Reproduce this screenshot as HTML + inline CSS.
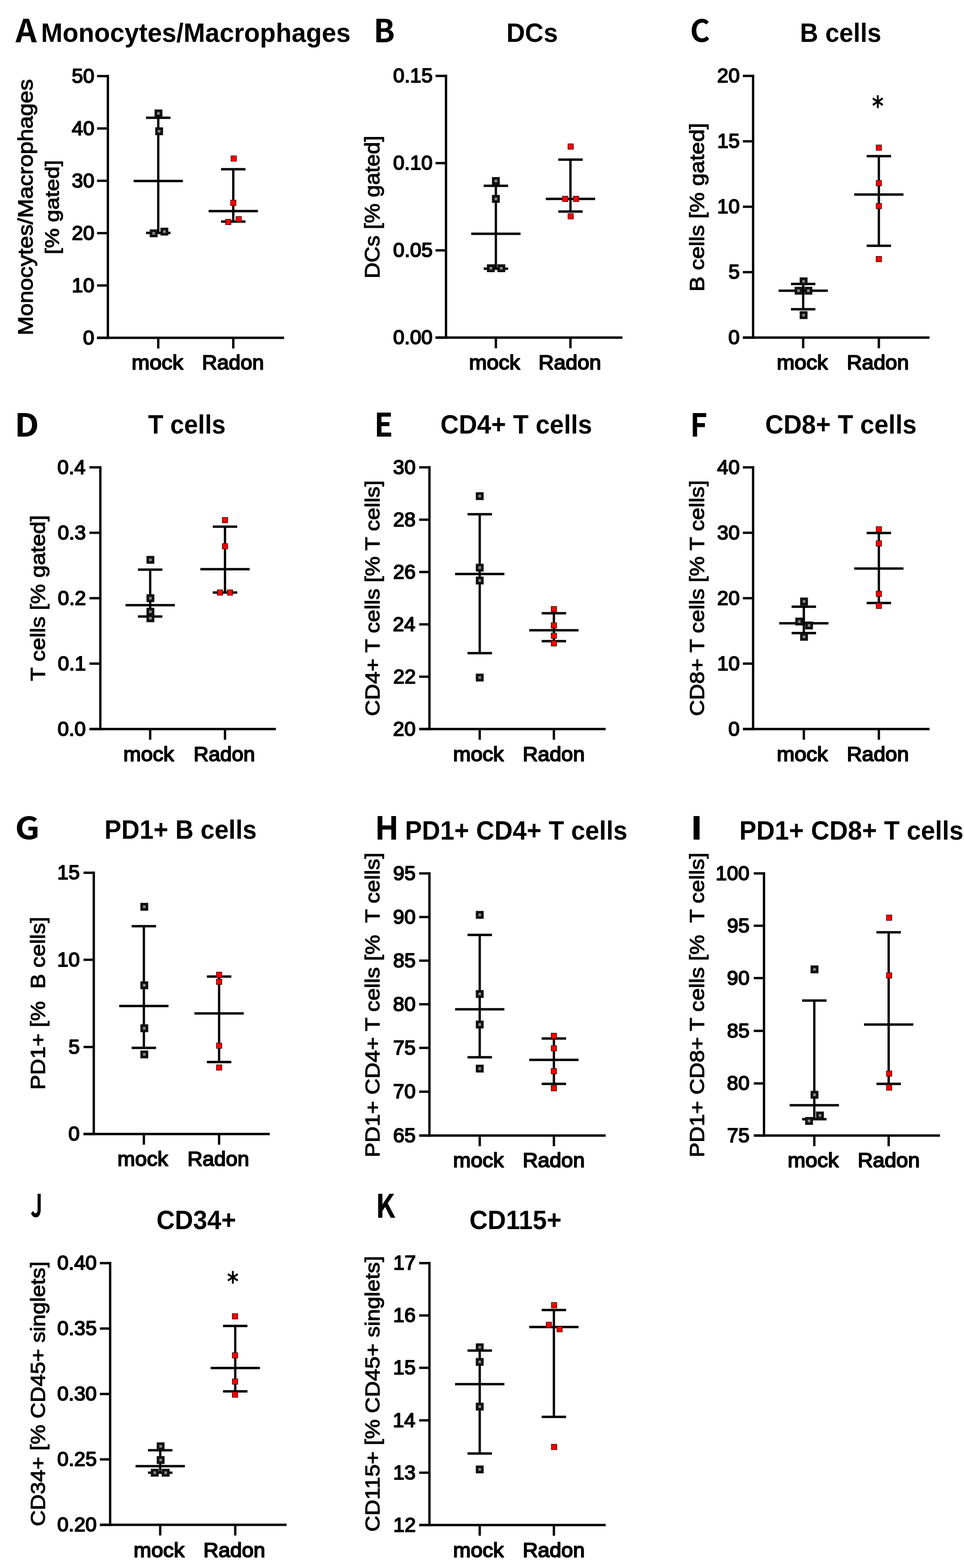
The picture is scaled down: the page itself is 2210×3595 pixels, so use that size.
<!DOCTYPE html>
<html><head><meta charset="utf-8"><title>Figure</title>
<style>html,body{margin:0;padding:0;background:#fff;}body{width:2210px;height:3595px;overflow:hidden;}svg{display:block;}</style>
</head><body>
<svg width="2210" height="3595" viewBox="0 0 2210 3595" font-family="'Liberation Sans', Arial, sans-serif" font-weight="bold" style="white-space:pre">
<g stroke="#000" stroke-linecap="butt">
<line x1="247.30" y1="171.80" x2="247.30" y2="777.20" stroke-width="5.4"/>
<line x1="222.50" y1="774.50" x2="651.30" y2="774.50" stroke-width="5.4"/>
<line x1="222.50" y1="174.50" x2="247.30" y2="174.50" stroke-width="5.4"/>
<line x1="222.50" y1="294.50" x2="247.30" y2="294.50" stroke-width="5.4"/>
<line x1="222.50" y1="414.50" x2="247.30" y2="414.50" stroke-width="5.4"/>
<line x1="222.50" y1="534.50" x2="247.30" y2="534.50" stroke-width="5.4"/>
<line x1="222.50" y1="654.50" x2="247.30" y2="654.50" stroke-width="5.4"/>
<line x1="222.50" y1="774.50" x2="247.30" y2="774.50" stroke-width="5.4"/>
<line x1="362.80" y1="774.50" x2="362.80" y2="799.00" stroke-width="5.4"/>
<line x1="534.80" y1="774.50" x2="534.80" y2="799.00" stroke-width="5.4"/>
<line x1="362.80" y1="270.00" x2="362.80" y2="534.00" stroke-width="5.3"/>
<line x1="334.80" y1="270.00" x2="390.80" y2="270.00" stroke-width="5.3"/>
<line x1="334.80" y1="534.00" x2="390.80" y2="534.00" stroke-width="5.3"/>
<line x1="306.30" y1="415.00" x2="419.30" y2="415.00" stroke-width="5.3"/>
<line x1="534.80" y1="388.00" x2="534.80" y2="508.00" stroke-width="5.3"/>
<line x1="506.80" y1="388.00" x2="562.80" y2="388.00" stroke-width="5.3"/>
<line x1="506.80" y1="508.00" x2="562.80" y2="508.00" stroke-width="5.3"/>
<line x1="478.30" y1="484.00" x2="591.30" y2="484.00" stroke-width="5.3"/>
</g>
<rect x="354.30" y="251.00" width="18" height="18" fill="#111"/><rect x="360.30" y="257.00" width="6" height="6" fill="#8c8c8c"/>
<rect x="355.80" y="292.00" width="18" height="18" fill="#111"/><rect x="361.80" y="298.00" width="6" height="6" fill="#8c8c8c"/>
<rect x="343.30" y="526.00" width="18" height="18" fill="#111"/><rect x="349.30" y="532.00" width="6" height="6" fill="#8c8c8c"/>
<rect x="367.80" y="522.00" width="18" height="18" fill="#111"/><rect x="373.80" y="528.00" width="6" height="6" fill="#8c8c8c"/>
<rect x="529.60" y="357.30" width="12.4" height="12.4" fill="#f00" stroke="#300" stroke-width="1.3"/>
<rect x="528.60" y="458.80" width="12.4" height="12.4" fill="#f00" stroke="#300" stroke-width="1.3"/>
<rect x="517.10" y="502.80" width="12.4" height="12.4" fill="#f00" stroke="#300" stroke-width="1.3"/>
<rect x="541.10" y="496.30" width="12.4" height="12.4" fill="#f00" stroke="#300" stroke-width="1.3"/>
<text x="164.53" y="189.50" font-size="46.50" font-weight="normal" stroke="#000" stroke-width="2.2" stroke-linejoin="round">50</text>
<text x="164.53" y="309.50" font-size="46.50" font-weight="normal" stroke="#000" stroke-width="2.2" stroke-linejoin="round">40</text>
<text x="164.53" y="429.50" font-size="46.50" font-weight="normal" stroke="#000" stroke-width="2.2" stroke-linejoin="round">30</text>
<text x="164.53" y="549.50" font-size="46.50" font-weight="normal" stroke="#000" stroke-width="2.2" stroke-linejoin="round">20</text>
<text x="164.53" y="669.50" font-size="46.50" font-weight="normal" stroke="#000" stroke-width="2.2" stroke-linejoin="round">10</text>
<text x="190.34" y="789.50" font-size="46.50" font-weight="normal" stroke="#000" stroke-width="2.2" stroke-linejoin="round">0</text>
<text x="301.71" y="847.20" font-size="47.00" font-weight="normal" stroke="#000" stroke-width="2.3" stroke-linejoin="round" textLength="118.20" lengthAdjust="spacingAndGlyphs">mock</text>
<text x="462.97" y="847.20" font-size="47.00" font-weight="normal" stroke="#000" stroke-width="2.3" stroke-linejoin="round" textLength="142.10" lengthAdjust="spacingAndGlyphs">Radon</text>
<text x="35.79" y="97.00" font-size="73.38" font-family="'Noto Sans CJK JP', 'Liberation Sans', sans-serif" textLength="48.41" lengthAdjust="spacingAndGlyphs">A</text>
<text x="93.99" y="96.10" font-size="61.50" textLength="709.89" lengthAdjust="spacingAndGlyphs">Monocytes/Macrophages</text>
<text x="0.00" y="0.00" font-size="48.85" font-weight="normal" stroke="#000" stroke-width="1.4" stroke-linejoin="round" textLength="587.28" lengthAdjust="spacingAndGlyphs" transform="translate(74.86,768.64) rotate(-90)">Monocytes/Macrophages</text>
<text x="0.00" y="0.00" font-size="44.08" font-weight="normal" stroke="#000" stroke-width="1.4" stroke-linejoin="round" textLength="215.90" lengthAdjust="spacingAndGlyphs" transform="translate(135.15,583.00) rotate(-90)">[% gated]</text>
<g stroke="#000" stroke-linecap="butt">
<line x1="1022.50" y1="171.30" x2="1022.50" y2="776.70" stroke-width="5.4"/>
<line x1="998.50" y1="774.00" x2="1427.00" y2="774.00" stroke-width="5.4"/>
<line x1="998.50" y1="174.00" x2="1022.50" y2="174.00" stroke-width="5.4"/>
<line x1="998.50" y1="374.00" x2="1022.50" y2="374.00" stroke-width="5.4"/>
<line x1="998.50" y1="574.00" x2="1022.50" y2="574.00" stroke-width="5.4"/>
<line x1="998.50" y1="774.00" x2="1022.50" y2="774.00" stroke-width="5.4"/>
<line x1="1136.80" y1="774.00" x2="1136.80" y2="798.50" stroke-width="5.4"/>
<line x1="1307.80" y1="774.00" x2="1307.80" y2="798.50" stroke-width="5.4"/>
<line x1="1136.80" y1="426.00" x2="1136.80" y2="616.00" stroke-width="5.3"/>
<line x1="1108.80" y1="426.00" x2="1164.80" y2="426.00" stroke-width="5.3"/>
<line x1="1108.80" y1="616.00" x2="1164.80" y2="616.00" stroke-width="5.3"/>
<line x1="1080.30" y1="536.00" x2="1193.30" y2="536.00" stroke-width="5.3"/>
<line x1="1307.80" y1="366.00" x2="1307.80" y2="485.00" stroke-width="5.3"/>
<line x1="1279.80" y1="366.00" x2="1335.80" y2="366.00" stroke-width="5.3"/>
<line x1="1279.80" y1="485.00" x2="1335.80" y2="485.00" stroke-width="5.3"/>
<line x1="1251.30" y1="456.00" x2="1364.30" y2="456.00" stroke-width="5.3"/>
</g>
<rect x="1127.80" y="406.00" width="18" height="18" fill="#111"/><rect x="1133.80" y="412.00" width="6" height="6" fill="#8c8c8c"/>
<rect x="1127.80" y="447.00" width="18" height="18" fill="#111"/><rect x="1133.80" y="453.00" width="6" height="6" fill="#8c8c8c"/>
<rect x="1116.30" y="606.00" width="18" height="18" fill="#111"/><rect x="1122.30" y="612.00" width="6" height="6" fill="#8c8c8c"/>
<rect x="1140.30" y="606.00" width="18" height="18" fill="#111"/><rect x="1146.30" y="612.00" width="6" height="6" fill="#8c8c8c"/>
<rect x="1302.10" y="329.80" width="12.4" height="12.4" fill="#f00" stroke="#300" stroke-width="1.3"/>
<rect x="1289.60" y="449.80" width="12.4" height="12.4" fill="#f00" stroke="#300" stroke-width="1.3"/>
<rect x="1314.60" y="449.80" width="12.4" height="12.4" fill="#f00" stroke="#300" stroke-width="1.3"/>
<rect x="1302.10" y="489.80" width="12.4" height="12.4" fill="#f00" stroke="#300" stroke-width="1.3"/>
<text x="901.32" y="189.00" font-size="46.50" font-weight="normal" stroke="#000" stroke-width="2.2" stroke-linejoin="round">0.15</text>
<text x="901.20" y="389.00" font-size="46.50" font-weight="normal" stroke="#000" stroke-width="2.2" stroke-linejoin="round">0.10</text>
<text x="901.32" y="589.00" font-size="46.50" font-weight="normal" stroke="#000" stroke-width="2.2" stroke-linejoin="round">0.05</text>
<text x="901.20" y="789.00" font-size="46.50" font-weight="normal" stroke="#000" stroke-width="2.2" stroke-linejoin="round">0.00</text>
<text x="1075.35" y="847.20" font-size="47.00" font-weight="normal" stroke="#000" stroke-width="2.3" stroke-linejoin="round" textLength="116.96" lengthAdjust="spacingAndGlyphs">mock</text>
<text x="1234.63" y="847.20" font-size="47.00" font-weight="normal" stroke="#000" stroke-width="2.3" stroke-linejoin="round" textLength="143.47" lengthAdjust="spacingAndGlyphs">Radon</text>
<text x="856.32" y="96.90" font-size="73.11" font-family="'Noto Sans CJK JP', 'Liberation Sans', sans-serif" textLength="49.03" lengthAdjust="spacingAndGlyphs">B</text>
<text x="1160.92" y="96.00" font-size="61.50" textLength="118.08" lengthAdjust="spacingAndGlyphs">DCs</text>
<text x="0.00" y="0.00" font-size="47.94" font-weight="normal" stroke="#000" stroke-width="1.4" stroke-linejoin="round" textLength="327.44" lengthAdjust="spacingAndGlyphs" transform="translate(870.05,638.49) rotate(-90)">DCs [% gated]</text>
<g stroke="#000" stroke-linecap="butt">
<line x1="1726.50" y1="171.30" x2="1726.50" y2="776.70" stroke-width="5.4"/>
<line x1="1703.00" y1="774.00" x2="2131.00" y2="774.00" stroke-width="5.4"/>
<line x1="1703.00" y1="174.00" x2="1726.50" y2="174.00" stroke-width="5.4"/>
<line x1="1703.00" y1="324.00" x2="1726.50" y2="324.00" stroke-width="5.4"/>
<line x1="1703.00" y1="474.00" x2="1726.50" y2="474.00" stroke-width="5.4"/>
<line x1="1703.00" y1="624.00" x2="1726.50" y2="624.00" stroke-width="5.4"/>
<line x1="1703.00" y1="774.00" x2="1726.50" y2="774.00" stroke-width="5.4"/>
<line x1="1841.30" y1="774.00" x2="1841.30" y2="798.50" stroke-width="5.4"/>
<line x1="2014.80" y1="774.00" x2="2014.80" y2="798.50" stroke-width="5.4"/>
<line x1="1841.30" y1="651.00" x2="1841.30" y2="709.00" stroke-width="5.3"/>
<line x1="1813.30" y1="651.00" x2="1869.30" y2="651.00" stroke-width="5.3"/>
<line x1="1813.30" y1="709.00" x2="1869.30" y2="709.00" stroke-width="5.3"/>
<line x1="1784.80" y1="666.50" x2="1897.80" y2="666.50" stroke-width="5.3"/>
<line x1="2014.80" y1="358.00" x2="2014.80" y2="563.50" stroke-width="5.3"/>
<line x1="1986.80" y1="358.00" x2="2042.80" y2="358.00" stroke-width="5.3"/>
<line x1="1986.80" y1="563.50" x2="2042.80" y2="563.50" stroke-width="5.3"/>
<line x1="1958.30" y1="446.00" x2="2071.30" y2="446.00" stroke-width="5.3"/>
</g>
<rect x="1833.30" y="636.00" width="18" height="18" fill="#111"/><rect x="1839.30" y="642.00" width="6" height="6" fill="#8c8c8c"/>
<rect x="1821.80" y="657.50" width="18" height="18" fill="#111"/><rect x="1827.80" y="663.50" width="6" height="6" fill="#8c8c8c"/>
<rect x="1844.30" y="657.50" width="18" height="18" fill="#111"/><rect x="1850.30" y="663.50" width="6" height="6" fill="#8c8c8c"/>
<rect x="1833.30" y="713.50" width="18" height="18" fill="#111"/><rect x="1839.30" y="719.50" width="6" height="6" fill="#8c8c8c"/>
<rect x="2008.60" y="332.30" width="12.4" height="12.4" fill="#f00" stroke="#300" stroke-width="1.3"/>
<rect x="2008.60" y="413.80" width="12.4" height="12.4" fill="#f00" stroke="#300" stroke-width="1.3"/>
<rect x="2008.60" y="466.30" width="12.4" height="12.4" fill="#f00" stroke="#300" stroke-width="1.3"/>
<rect x="2008.60" y="587.80" width="12.4" height="12.4" fill="#f00" stroke="#300" stroke-width="1.3"/>
<text x="1644.03" y="189.00" font-size="46.50" font-weight="normal" stroke="#000" stroke-width="2.2" stroke-linejoin="round">20</text>
<text x="1644.14" y="339.00" font-size="46.50" font-weight="normal" stroke="#000" stroke-width="2.2" stroke-linejoin="round">15</text>
<text x="1644.03" y="489.00" font-size="46.50" font-weight="normal" stroke="#000" stroke-width="2.2" stroke-linejoin="round">10</text>
<text x="1669.95" y="639.00" font-size="46.50" font-weight="normal" stroke="#000" stroke-width="2.2" stroke-linejoin="round">5</text>
<text x="1669.84" y="789.00" font-size="46.50" font-weight="normal" stroke="#000" stroke-width="2.2" stroke-linejoin="round">0</text>
<text x="1780.85" y="847.20" font-size="47.00" font-weight="normal" stroke="#000" stroke-width="2.3" stroke-linejoin="round" textLength="116.96" lengthAdjust="spacingAndGlyphs">mock</text>
<text x="1941.16" y="847.20" font-size="47.00" font-weight="normal" stroke="#000" stroke-width="2.3" stroke-linejoin="round" textLength="142.42" lengthAdjust="spacingAndGlyphs">Radon</text>
<text x="1582.07" y="96.04" font-size="70.78" font-family="'Noto Sans CJK JP', 'Liberation Sans', sans-serif" textLength="45.72" lengthAdjust="spacingAndGlyphs">C</text>
<text x="1834.10" y="96.00" font-size="61.50" textLength="186.31" lengthAdjust="spacingAndGlyphs">B cells</text>
<text x="0.00" y="0.00" font-size="46.76" font-weight="normal" stroke="#000" stroke-width="1.4" stroke-linejoin="round" textLength="386.57" lengthAdjust="spacingAndGlyphs" transform="translate(1613.60,668.58) rotate(-90)">B cells [% gated]</text>
<text x="1999.08" y="265.88" font-size="64.09" font-family="'DejaVu Sans', 'Liberation Sans', sans-serif" textLength="26.66" lengthAdjust="spacingAndGlyphs">*</text>
<g stroke="#000" stroke-linecap="butt">
<line x1="230.00" y1="1068.80" x2="230.00" y2="1674.20" stroke-width="5.4"/>
<line x1="205.00" y1="1671.50" x2="632.50" y2="1671.50" stroke-width="5.4"/>
<line x1="205.00" y1="1071.50" x2="230.00" y2="1071.50" stroke-width="5.4"/>
<line x1="205.00" y1="1221.50" x2="230.00" y2="1221.50" stroke-width="5.4"/>
<line x1="205.00" y1="1371.50" x2="230.00" y2="1371.50" stroke-width="5.4"/>
<line x1="205.00" y1="1521.50" x2="230.00" y2="1521.50" stroke-width="5.4"/>
<line x1="205.00" y1="1671.50" x2="230.00" y2="1671.50" stroke-width="5.4"/>
<line x1="344.30" y1="1671.50" x2="344.30" y2="1696.00" stroke-width="5.4"/>
<line x1="515.80" y1="1671.50" x2="515.80" y2="1696.00" stroke-width="5.4"/>
<line x1="344.30" y1="1306.00" x2="344.30" y2="1413.50" stroke-width="5.3"/>
<line x1="316.30" y1="1306.00" x2="372.30" y2="1306.00" stroke-width="5.3"/>
<line x1="316.30" y1="1413.50" x2="372.30" y2="1413.50" stroke-width="5.3"/>
<line x1="287.80" y1="1387.50" x2="400.80" y2="1387.50" stroke-width="5.3"/>
<line x1="515.80" y1="1207.50" x2="515.80" y2="1358.50" stroke-width="5.3"/>
<line x1="487.80" y1="1207.50" x2="543.80" y2="1207.50" stroke-width="5.3"/>
<line x1="487.80" y1="1358.50" x2="543.80" y2="1358.50" stroke-width="5.3"/>
<line x1="459.30" y1="1305.00" x2="572.30" y2="1305.00" stroke-width="5.3"/>
</g>
<rect x="335.80" y="1274.50" width="18" height="18" fill="#111"/><rect x="341.80" y="1280.50" width="6" height="6" fill="#8c8c8c"/>
<rect x="335.80" y="1362.50" width="18" height="18" fill="#111"/><rect x="341.80" y="1368.50" width="6" height="6" fill="#8c8c8c"/>
<rect x="335.80" y="1393.50" width="18" height="18" fill="#111"/><rect x="341.80" y="1399.50" width="6" height="6" fill="#8c8c8c"/>
<rect x="335.80" y="1408.50" width="18" height="18" fill="#111"/><rect x="341.80" y="1414.50" width="6" height="6" fill="#8c8c8c"/>
<rect x="509.60" y="1186.30" width="12.4" height="12.4" fill="#f00" stroke="#300" stroke-width="1.3"/>
<rect x="509.60" y="1246.30" width="12.4" height="12.4" fill="#f00" stroke="#300" stroke-width="1.3"/>
<rect x="498.10" y="1352.30" width="12.4" height="12.4" fill="#f00" stroke="#300" stroke-width="1.3"/>
<rect x="521.10" y="1352.30" width="12.4" height="12.4" fill="#f00" stroke="#300" stroke-width="1.3"/>
<text x="131.54" y="1086.50" font-size="46.50" font-weight="normal" stroke="#000" stroke-width="2.2" stroke-linejoin="round">0.4</text>
<text x="132.24" y="1236.50" font-size="46.50" font-weight="normal" stroke="#000" stroke-width="2.2" stroke-linejoin="round">0.3</text>
<text x="132.59" y="1386.50" font-size="46.50" font-weight="normal" stroke="#000" stroke-width="2.2" stroke-linejoin="round">0.2</text>
<text x="132.47" y="1536.50" font-size="46.50" font-weight="normal" stroke="#000" stroke-width="2.2" stroke-linejoin="round">0.1</text>
<text x="132.01" y="1686.50" font-size="46.50" font-weight="normal" stroke="#000" stroke-width="2.2" stroke-linejoin="round">0.0</text>
<text x="282.87" y="1745.00" font-size="47.00" font-weight="normal" stroke="#000" stroke-width="2.3" stroke-linejoin="round" textLength="115.94" lengthAdjust="spacingAndGlyphs">mock</text>
<text x="443.71" y="1745.00" font-size="47.00" font-weight="normal" stroke="#000" stroke-width="2.3" stroke-linejoin="round" textLength="140.84" lengthAdjust="spacingAndGlyphs">Radon</text>
<text x="33.31" y="1000.50" font-size="73.24" font-family="'Noto Sans CJK JP', 'Liberation Sans', sans-serif" textLength="56.24" lengthAdjust="spacingAndGlyphs">D</text>
<text x="339.43" y="994.00" font-size="61.50" textLength="177.88" lengthAdjust="spacingAndGlyphs">T cells</text>
<text x="0.00" y="0.00" font-size="46.76" font-weight="normal" stroke="#000" stroke-width="1.4" stroke-linejoin="round" textLength="380.34" lengthAdjust="spacingAndGlyphs" transform="translate(103.10,1561.46) rotate(-90)">T cells [% gated]</text>
<g stroke="#000" stroke-linecap="butt">
<line x1="984.50" y1="1068.80" x2="984.50" y2="1674.20" stroke-width="5.4"/>
<line x1="961.00" y1="1671.50" x2="1388.50" y2="1671.50" stroke-width="5.4"/>
<line x1="961.00" y1="1071.50" x2="984.50" y2="1071.50" stroke-width="5.4"/>
<line x1="961.00" y1="1191.50" x2="984.50" y2="1191.50" stroke-width="5.4"/>
<line x1="961.00" y1="1311.50" x2="984.50" y2="1311.50" stroke-width="5.4"/>
<line x1="961.00" y1="1431.50" x2="984.50" y2="1431.50" stroke-width="5.4"/>
<line x1="961.00" y1="1551.50" x2="984.50" y2="1551.50" stroke-width="5.4"/>
<line x1="961.00" y1="1671.50" x2="984.50" y2="1671.50" stroke-width="5.4"/>
<line x1="1099.80" y1="1671.50" x2="1099.80" y2="1696.00" stroke-width="5.4"/>
<line x1="1269.80" y1="1671.50" x2="1269.80" y2="1696.00" stroke-width="5.4"/>
<line x1="1099.80" y1="1179.00" x2="1099.80" y2="1497.50" stroke-width="5.3"/>
<line x1="1071.80" y1="1179.00" x2="1127.80" y2="1179.00" stroke-width="5.3"/>
<line x1="1071.80" y1="1497.50" x2="1127.80" y2="1497.50" stroke-width="5.3"/>
<line x1="1043.30" y1="1316.00" x2="1156.30" y2="1316.00" stroke-width="5.3"/>
<line x1="1269.80" y1="1406.00" x2="1269.80" y2="1470.00" stroke-width="5.3"/>
<line x1="1241.80" y1="1406.00" x2="1297.80" y2="1406.00" stroke-width="5.3"/>
<line x1="1241.80" y1="1470.00" x2="1297.80" y2="1470.00" stroke-width="5.3"/>
<line x1="1213.30" y1="1445.00" x2="1326.30" y2="1445.00" stroke-width="5.3"/>
</g>
<rect x="1090.80" y="1128.50" width="18" height="18" fill="#111"/><rect x="1096.80" y="1134.50" width="6" height="6" fill="#8c8c8c"/>
<rect x="1090.80" y="1292.50" width="18" height="18" fill="#111"/><rect x="1096.80" y="1298.50" width="6" height="6" fill="#8c8c8c"/>
<rect x="1090.80" y="1322.00" width="18" height="18" fill="#111"/><rect x="1096.80" y="1328.00" width="6" height="6" fill="#8c8c8c"/>
<rect x="1090.80" y="1544.50" width="18" height="18" fill="#111"/><rect x="1096.80" y="1550.50" width="6" height="6" fill="#8c8c8c"/>
<rect x="1263.60" y="1390.30" width="12.4" height="12.4" fill="#f00" stroke="#300" stroke-width="1.3"/>
<rect x="1263.60" y="1427.80" width="12.4" height="12.4" fill="#f00" stroke="#300" stroke-width="1.3"/>
<rect x="1263.60" y="1451.30" width="12.4" height="12.4" fill="#f00" stroke="#300" stroke-width="1.3"/>
<rect x="1263.60" y="1468.80" width="12.4" height="12.4" fill="#f00" stroke="#300" stroke-width="1.3"/>
<text x="901.03" y="1086.50" font-size="46.50" font-weight="normal" stroke="#000" stroke-width="2.2" stroke-linejoin="round">30</text>
<text x="901.26" y="1206.50" font-size="46.50" font-weight="normal" stroke="#000" stroke-width="2.2" stroke-linejoin="round">28</text>
<text x="901.26" y="1326.50" font-size="46.50" font-weight="normal" stroke="#000" stroke-width="2.2" stroke-linejoin="round">26</text>
<text x="900.56" y="1446.50" font-size="46.50" font-weight="normal" stroke="#000" stroke-width="2.2" stroke-linejoin="round">24</text>
<text x="901.61" y="1566.50" font-size="46.50" font-weight="normal" stroke="#000" stroke-width="2.2" stroke-linejoin="round">22</text>
<text x="901.03" y="1686.50" font-size="46.50" font-weight="normal" stroke="#000" stroke-width="2.2" stroke-linejoin="round">20</text>
<text x="1038.87" y="1745.00" font-size="47.00" font-weight="normal" stroke="#000" stroke-width="2.3" stroke-linejoin="round" textLength="115.94" lengthAdjust="spacingAndGlyphs">mock</text>
<text x="1198.16" y="1745.00" font-size="47.00" font-weight="normal" stroke="#000" stroke-width="2.3" stroke-linejoin="round" textLength="142.42" lengthAdjust="spacingAndGlyphs">Radon</text>
<text x="857.77" y="1000.70" font-size="73.78" font-family="'Noto Sans CJK JP', 'Liberation Sans', sans-serif" textLength="43.25" lengthAdjust="spacingAndGlyphs">E</text>
<text x="1009.67" y="994.00" font-size="61.50" textLength="347.67" lengthAdjust="spacingAndGlyphs">CD4+ T cells</text>
<text x="0.00" y="0.00" font-size="45.68" font-weight="normal" stroke="#000" stroke-width="1.4" stroke-linejoin="round" textLength="540.70" lengthAdjust="spacingAndGlyphs" transform="translate(869.82,1641.86) rotate(-90)">CD4+ T cells [% T cells]</text>
<g stroke="#000" stroke-linecap="butt">
<line x1="1726.50" y1="1068.80" x2="1726.50" y2="1674.20" stroke-width="5.4"/>
<line x1="1703.00" y1="1671.50" x2="2131.00" y2="1671.50" stroke-width="5.4"/>
<line x1="1703.00" y1="1071.50" x2="1726.50" y2="1071.50" stroke-width="5.4"/>
<line x1="1703.00" y1="1221.50" x2="1726.50" y2="1221.50" stroke-width="5.4"/>
<line x1="1703.00" y1="1371.50" x2="1726.50" y2="1371.50" stroke-width="5.4"/>
<line x1="1703.00" y1="1521.50" x2="1726.50" y2="1521.50" stroke-width="5.4"/>
<line x1="1703.00" y1="1671.50" x2="1726.50" y2="1671.50" stroke-width="5.4"/>
<line x1="1842.80" y1="1671.50" x2="1842.80" y2="1696.00" stroke-width="5.4"/>
<line x1="2014.80" y1="1671.50" x2="2014.80" y2="1696.00" stroke-width="5.4"/>
<line x1="1842.80" y1="1391.00" x2="1842.80" y2="1451.50" stroke-width="5.3"/>
<line x1="1814.80" y1="1391.00" x2="1870.80" y2="1391.00" stroke-width="5.3"/>
<line x1="1814.80" y1="1451.50" x2="1870.80" y2="1451.50" stroke-width="5.3"/>
<line x1="1786.30" y1="1429.00" x2="1899.30" y2="1429.00" stroke-width="5.3"/>
<line x1="2014.80" y1="1222.00" x2="2014.80" y2="1382.50" stroke-width="5.3"/>
<line x1="1986.80" y1="1222.00" x2="2042.80" y2="1222.00" stroke-width="5.3"/>
<line x1="1986.80" y1="1382.50" x2="2042.80" y2="1382.50" stroke-width="5.3"/>
<line x1="1958.30" y1="1303.50" x2="2071.30" y2="1303.50" stroke-width="5.3"/>
</g>
<rect x="1834.30" y="1370.00" width="18" height="18" fill="#111"/><rect x="1840.30" y="1376.00" width="6" height="6" fill="#8c8c8c"/>
<rect x="1823.30" y="1416.00" width="18" height="18" fill="#111"/><rect x="1829.30" y="1422.00" width="6" height="6" fill="#8c8c8c"/>
<rect x="1845.80" y="1425.00" width="18" height="18" fill="#111"/><rect x="1851.80" y="1431.00" width="6" height="6" fill="#8c8c8c"/>
<rect x="1834.30" y="1451.00" width="18" height="18" fill="#111"/><rect x="1840.30" y="1457.00" width="6" height="6" fill="#8c8c8c"/>
<rect x="2008.60" y="1207.30" width="12.4" height="12.4" fill="#f00" stroke="#300" stroke-width="1.3"/>
<rect x="2008.60" y="1239.80" width="12.4" height="12.4" fill="#f00" stroke="#300" stroke-width="1.3"/>
<rect x="2008.60" y="1355.30" width="12.4" height="12.4" fill="#f00" stroke="#300" stroke-width="1.3"/>
<rect x="2008.60" y="1382.80" width="12.4" height="12.4" fill="#f00" stroke="#300" stroke-width="1.3"/>
<text x="1644.03" y="1086.50" font-size="46.50" font-weight="normal" stroke="#000" stroke-width="2.2" stroke-linejoin="round">40</text>
<text x="1644.03" y="1236.50" font-size="46.50" font-weight="normal" stroke="#000" stroke-width="2.2" stroke-linejoin="round">30</text>
<text x="1644.03" y="1386.50" font-size="46.50" font-weight="normal" stroke="#000" stroke-width="2.2" stroke-linejoin="round">20</text>
<text x="1644.03" y="1536.50" font-size="46.50" font-weight="normal" stroke="#000" stroke-width="2.2" stroke-linejoin="round">10</text>
<text x="1669.84" y="1686.50" font-size="46.50" font-weight="normal" stroke="#000" stroke-width="2.2" stroke-linejoin="round">0</text>
<text x="1780.85" y="1745.00" font-size="47.00" font-weight="normal" stroke="#000" stroke-width="2.3" stroke-linejoin="round" textLength="116.96" lengthAdjust="spacingAndGlyphs">mock</text>
<text x="1941.16" y="1745.00" font-size="47.00" font-weight="normal" stroke="#000" stroke-width="2.3" stroke-linejoin="round" textLength="142.42" lengthAdjust="spacingAndGlyphs">Radon</text>
<text x="1581.90" y="1000.60" font-size="73.51" font-family="'Noto Sans CJK JP', 'Liberation Sans', sans-serif" textLength="39.64" lengthAdjust="spacingAndGlyphs">F</text>
<text x="1754.18" y="994.00" font-size="61.50" textLength="347.17" lengthAdjust="spacingAndGlyphs">CD8+ T cells</text>
<text x="0.00" y="0.00" font-size="46.76" font-weight="normal" stroke="#000" stroke-width="1.4" stroke-linejoin="round" textLength="540.70" lengthAdjust="spacingAndGlyphs" transform="translate(1613.60,1641.86) rotate(-90)">CD8+ T cells [% T cells]</text>
<g stroke="#000" stroke-linecap="butt">
<line x1="215.00" y1="1998.30" x2="215.00" y2="2602.70" stroke-width="5.4"/>
<line x1="191.50" y1="2600.00" x2="618.50" y2="2600.00" stroke-width="5.4"/>
<line x1="191.50" y1="2001.00" x2="215.00" y2="2001.00" stroke-width="5.4"/>
<line x1="191.50" y1="2200.50" x2="215.00" y2="2200.50" stroke-width="5.4"/>
<line x1="191.50" y1="2400.50" x2="215.00" y2="2400.50" stroke-width="5.4"/>
<line x1="191.50" y1="2600.00" x2="215.00" y2="2600.00" stroke-width="5.4"/>
<line x1="329.80" y1="2600.00" x2="329.80" y2="2624.50" stroke-width="5.4"/>
<line x1="502.30" y1="2600.00" x2="502.30" y2="2624.50" stroke-width="5.4"/>
<line x1="329.80" y1="2123.50" x2="329.80" y2="2402.50" stroke-width="5.3"/>
<line x1="301.80" y1="2123.50" x2="357.80" y2="2123.50" stroke-width="5.3"/>
<line x1="301.80" y1="2402.50" x2="357.80" y2="2402.50" stroke-width="5.3"/>
<line x1="273.30" y1="2306.50" x2="386.30" y2="2306.50" stroke-width="5.3"/>
<line x1="502.30" y1="2239.00" x2="502.30" y2="2435.00" stroke-width="5.3"/>
<line x1="474.30" y1="2239.00" x2="530.30" y2="2239.00" stroke-width="5.3"/>
<line x1="474.30" y1="2435.00" x2="530.30" y2="2435.00" stroke-width="5.3"/>
<line x1="445.80" y1="2323.50" x2="558.80" y2="2323.50" stroke-width="5.3"/>
</g>
<rect x="321.80" y="2070.00" width="18" height="18" fill="#111"/><rect x="327.80" y="2076.00" width="6" height="6" fill="#8c8c8c"/>
<rect x="321.80" y="2250.00" width="18" height="18" fill="#111"/><rect x="327.80" y="2256.00" width="6" height="6" fill="#8c8c8c"/>
<rect x="321.80" y="2348.50" width="18" height="18" fill="#111"/><rect x="327.80" y="2354.50" width="6" height="6" fill="#8c8c8c"/>
<rect x="321.80" y="2408.50" width="18" height="18" fill="#111"/><rect x="327.80" y="2414.50" width="6" height="6" fill="#8c8c8c"/>
<rect x="496.10" y="2228.80" width="12.4" height="12.4" fill="#f00" stroke="#300" stroke-width="1.3"/>
<rect x="496.10" y="2244.80" width="12.4" height="12.4" fill="#f00" stroke="#300" stroke-width="1.3"/>
<rect x="496.10" y="2391.30" width="12.4" height="12.4" fill="#f00" stroke="#300" stroke-width="1.3"/>
<rect x="496.10" y="2441.30" width="12.4" height="12.4" fill="#f00" stroke="#300" stroke-width="1.3"/>
<text x="131.15" y="2016.00" font-size="46.50" font-weight="normal" stroke="#000" stroke-width="2.2" stroke-linejoin="round">15</text>
<text x="131.03" y="2215.50" font-size="46.50" font-weight="normal" stroke="#000" stroke-width="2.2" stroke-linejoin="round">10</text>
<text x="156.95" y="2415.50" font-size="46.50" font-weight="normal" stroke="#000" stroke-width="2.2" stroke-linejoin="round">5</text>
<text x="156.84" y="2615.00" font-size="46.50" font-weight="normal" stroke="#000" stroke-width="2.2" stroke-linejoin="round">0</text>
<text x="269.37" y="2672.50" font-size="47.00" font-weight="normal" stroke="#000" stroke-width="2.3" stroke-linejoin="round" textLength="115.94" lengthAdjust="spacingAndGlyphs">mock</text>
<text x="429.69" y="2672.50" font-size="47.00" font-weight="normal" stroke="#000" stroke-width="2.3" stroke-linejoin="round" textLength="141.37" lengthAdjust="spacingAndGlyphs">Radon</text>
<text x="34.46" y="1923.74" font-size="70.39" font-family="'Noto Sans CJK JP', 'Liberation Sans', sans-serif" textLength="56.64" lengthAdjust="spacingAndGlyphs">G</text>
<text x="239.60" y="1922.50" font-size="61.50" textLength="348.80" lengthAdjust="spacingAndGlyphs">PD1+ B cells</text>
<text x="0.00" y="0.00" font-size="46.76" font-weight="normal" stroke="#000" stroke-width="1.4" stroke-linejoin="round" textLength="396.43" lengthAdjust="spacingAndGlyphs" transform="translate(103.10,2498.52) rotate(-90)">PD1+ [%  B cells]</text>
<g stroke="#000" stroke-linecap="butt">
<line x1="984.50" y1="1999.80" x2="984.50" y2="2606.20" stroke-width="5.4"/>
<line x1="961.00" y1="2603.50" x2="1388.50" y2="2603.50" stroke-width="5.4"/>
<line x1="961.00" y1="2002.50" x2="984.50" y2="2002.50" stroke-width="5.4"/>
<line x1="961.00" y1="2102.50" x2="984.50" y2="2102.50" stroke-width="5.4"/>
<line x1="961.00" y1="2202.50" x2="984.50" y2="2202.50" stroke-width="5.4"/>
<line x1="961.00" y1="2302.50" x2="984.50" y2="2302.50" stroke-width="5.4"/>
<line x1="961.00" y1="2402.50" x2="984.50" y2="2402.50" stroke-width="5.4"/>
<line x1="961.00" y1="2503.00" x2="984.50" y2="2503.00" stroke-width="5.4"/>
<line x1="961.00" y1="2603.50" x2="984.50" y2="2603.50" stroke-width="5.4"/>
<line x1="1099.80" y1="2603.50" x2="1099.80" y2="2628.00" stroke-width="5.4"/>
<line x1="1269.80" y1="2603.50" x2="1269.80" y2="2628.00" stroke-width="5.4"/>
<line x1="1099.80" y1="2143.50" x2="1099.80" y2="2424.00" stroke-width="5.3"/>
<line x1="1071.80" y1="2143.50" x2="1127.80" y2="2143.50" stroke-width="5.3"/>
<line x1="1071.80" y1="2424.00" x2="1127.80" y2="2424.00" stroke-width="5.3"/>
<line x1="1043.30" y1="2314.00" x2="1156.30" y2="2314.00" stroke-width="5.3"/>
<line x1="1269.80" y1="2381.00" x2="1269.80" y2="2485.00" stroke-width="5.3"/>
<line x1="1241.80" y1="2381.00" x2="1297.80" y2="2381.00" stroke-width="5.3"/>
<line x1="1241.80" y1="2485.00" x2="1297.80" y2="2485.00" stroke-width="5.3"/>
<line x1="1213.30" y1="2430.00" x2="1326.30" y2="2430.00" stroke-width="5.3"/>
</g>
<rect x="1090.80" y="2088.50" width="18" height="18" fill="#111"/><rect x="1096.80" y="2094.50" width="6" height="6" fill="#8c8c8c"/>
<rect x="1090.80" y="2270.00" width="18" height="18" fill="#111"/><rect x="1096.80" y="2276.00" width="6" height="6" fill="#8c8c8c"/>
<rect x="1090.80" y="2340.00" width="18" height="18" fill="#111"/><rect x="1096.80" y="2346.00" width="6" height="6" fill="#8c8c8c"/>
<rect x="1090.80" y="2441.00" width="18" height="18" fill="#111"/><rect x="1096.80" y="2447.00" width="6" height="6" fill="#8c8c8c"/>
<rect x="1263.60" y="2368.80" width="12.4" height="12.4" fill="#f00" stroke="#300" stroke-width="1.3"/>
<rect x="1263.60" y="2397.30" width="12.4" height="12.4" fill="#f00" stroke="#300" stroke-width="1.3"/>
<rect x="1263.60" y="2449.80" width="12.4" height="12.4" fill="#f00" stroke="#300" stroke-width="1.3"/>
<rect x="1263.60" y="2488.80" width="12.4" height="12.4" fill="#f00" stroke="#300" stroke-width="1.3"/>
<text x="901.14" y="2017.50" font-size="46.50" font-weight="normal" stroke="#000" stroke-width="2.2" stroke-linejoin="round">95</text>
<text x="901.03" y="2117.50" font-size="46.50" font-weight="normal" stroke="#000" stroke-width="2.2" stroke-linejoin="round">90</text>
<text x="901.14" y="2217.50" font-size="46.50" font-weight="normal" stroke="#000" stroke-width="2.2" stroke-linejoin="round">85</text>
<text x="901.03" y="2317.50" font-size="46.50" font-weight="normal" stroke="#000" stroke-width="2.2" stroke-linejoin="round">80</text>
<text x="901.14" y="2417.50" font-size="46.50" font-weight="normal" stroke="#000" stroke-width="2.2" stroke-linejoin="round">75</text>
<text x="901.03" y="2518.00" font-size="46.50" font-weight="normal" stroke="#000" stroke-width="2.2" stroke-linejoin="round">70</text>
<text x="901.14" y="2618.50" font-size="46.50" font-weight="normal" stroke="#000" stroke-width="2.2" stroke-linejoin="round">65</text>
<text x="1038.87" y="2676.00" font-size="47.00" font-weight="normal" stroke="#000" stroke-width="2.3" stroke-linejoin="round" textLength="115.94" lengthAdjust="spacingAndGlyphs">mock</text>
<text x="1198.16" y="2676.00" font-size="47.00" font-weight="normal" stroke="#000" stroke-width="2.3" stroke-linejoin="round" textLength="142.42" lengthAdjust="spacingAndGlyphs">Radon</text>
<text x="858.99" y="1924.80" font-size="73.51" font-family="'Noto Sans CJK JP', 'Liberation Sans', sans-serif" textLength="55.56" lengthAdjust="spacingAndGlyphs">H</text>
<text x="928.58" y="1925.00" font-size="61.50" textLength="509.74" lengthAdjust="spacingAndGlyphs">PD1+ CD4+ T cells</text>
<text x="0.00" y="0.00" font-size="45.68" font-weight="normal" stroke="#000" stroke-width="1.4" stroke-linejoin="round" textLength="698.87" lengthAdjust="spacingAndGlyphs" transform="translate(869.82,2653.52) rotate(-90)">PD1+ CD4+ T cells [%  T cells]</text>
<g stroke="#000" stroke-linecap="butt">
<line x1="1751.50" y1="1999.80" x2="1751.50" y2="2606.20" stroke-width="5.4"/>
<line x1="1728.00" y1="2603.50" x2="2155.00" y2="2603.50" stroke-width="5.4"/>
<line x1="1728.00" y1="2002.50" x2="1751.50" y2="2002.50" stroke-width="5.4"/>
<line x1="1728.00" y1="2122.50" x2="1751.50" y2="2122.50" stroke-width="5.4"/>
<line x1="1728.00" y1="2242.50" x2="1751.50" y2="2242.50" stroke-width="5.4"/>
<line x1="1728.00" y1="2363.50" x2="1751.50" y2="2363.50" stroke-width="5.4"/>
<line x1="1728.00" y1="2484.00" x2="1751.50" y2="2484.00" stroke-width="5.4"/>
<line x1="1728.00" y1="2603.50" x2="1751.50" y2="2603.50" stroke-width="5.4"/>
<line x1="1866.80" y1="2603.50" x2="1866.80" y2="2628.00" stroke-width="5.4"/>
<line x1="2037.30" y1="2603.50" x2="2037.30" y2="2628.00" stroke-width="5.4"/>
<line x1="1866.80" y1="2294.00" x2="1866.80" y2="2566.00" stroke-width="5.3"/>
<line x1="1838.80" y1="2294.00" x2="1894.80" y2="2294.00" stroke-width="5.3"/>
<line x1="1838.80" y1="2566.00" x2="1894.80" y2="2566.00" stroke-width="5.3"/>
<line x1="1810.30" y1="2534.00" x2="1923.30" y2="2534.00" stroke-width="5.3"/>
<line x1="2037.30" y1="2137.50" x2="2037.30" y2="2485.00" stroke-width="5.3"/>
<line x1="2009.30" y1="2137.50" x2="2065.30" y2="2137.50" stroke-width="5.3"/>
<line x1="2009.30" y1="2485.00" x2="2065.30" y2="2485.00" stroke-width="5.3"/>
<line x1="1980.80" y1="2349.00" x2="2093.80" y2="2349.00" stroke-width="5.3"/>
</g>
<rect x="1858.30" y="2213.50" width="18" height="18" fill="#111"/><rect x="1864.30" y="2219.50" width="6" height="6" fill="#8c8c8c"/>
<rect x="1858.30" y="2501.00" width="18" height="18" fill="#111"/><rect x="1864.30" y="2507.00" width="6" height="6" fill="#8c8c8c"/>
<rect x="1870.80" y="2548.50" width="18" height="18" fill="#111"/><rect x="1876.80" y="2554.50" width="6" height="6" fill="#8c8c8c"/>
<rect x="1845.80" y="2561.00" width="18" height="18" fill="#111"/><rect x="1851.80" y="2567.00" width="6" height="6" fill="#8c8c8c"/>
<rect x="2032.10" y="2097.80" width="12.4" height="12.4" fill="#f00" stroke="#300" stroke-width="1.3"/>
<rect x="2032.10" y="2230.30" width="12.4" height="12.4" fill="#f00" stroke="#300" stroke-width="1.3"/>
<rect x="2032.10" y="2455.30" width="12.4" height="12.4" fill="#f00" stroke="#300" stroke-width="1.3"/>
<rect x="2032.10" y="2487.30" width="12.4" height="12.4" fill="#f00" stroke="#300" stroke-width="1.3"/>
<text x="1640.61" y="2017.50" font-size="46.50" font-weight="normal" stroke="#000" stroke-width="2.2" stroke-linejoin="round">100</text>
<text x="1666.64" y="2137.50" font-size="46.50" font-weight="normal" stroke="#000" stroke-width="2.2" stroke-linejoin="round">95</text>
<text x="1666.53" y="2257.50" font-size="46.50" font-weight="normal" stroke="#000" stroke-width="2.2" stroke-linejoin="round">90</text>
<text x="1666.64" y="2378.50" font-size="46.50" font-weight="normal" stroke="#000" stroke-width="2.2" stroke-linejoin="round">85</text>
<text x="1666.53" y="2499.00" font-size="46.50" font-weight="normal" stroke="#000" stroke-width="2.2" stroke-linejoin="round">80</text>
<text x="1666.64" y="2618.50" font-size="46.50" font-weight="normal" stroke="#000" stroke-width="2.2" stroke-linejoin="round">75</text>
<text x="1805.85" y="2676.00" font-size="47.00" font-weight="normal" stroke="#000" stroke-width="2.3" stroke-linejoin="round" textLength="116.96" lengthAdjust="spacingAndGlyphs">mock</text>
<text x="1966.16" y="2676.00" font-size="47.00" font-weight="normal" stroke="#000" stroke-width="2.3" stroke-linejoin="round" textLength="142.42" lengthAdjust="spacingAndGlyphs">Radon</text>
<text x="1581.60" y="1924.80" font-size="73.38" font-family="'Noto Sans CJK JP', 'Liberation Sans', sans-serif" textLength="30.80" lengthAdjust="spacingAndGlyphs">I</text>
<text x="1695.05" y="1925.00" font-size="61.50" textLength="513.79" lengthAdjust="spacingAndGlyphs">PD1+ CD8+ T cells</text>
<text x="0.00" y="0.00" font-size="46.76" font-weight="normal" stroke="#000" stroke-width="1.4" stroke-linejoin="round" textLength="698.87" lengthAdjust="spacingAndGlyphs" transform="translate(1613.60,2653.52) rotate(-90)">PD1+ CD8+ T cells [%  T cells]</text>
<g stroke="#000" stroke-linecap="butt">
<line x1="252.50" y1="2893.30" x2="252.50" y2="3498.70" stroke-width="5.4"/>
<line x1="229.00" y1="3496.00" x2="657.00" y2="3496.00" stroke-width="5.4"/>
<line x1="229.00" y1="2896.00" x2="252.50" y2="2896.00" stroke-width="5.4"/>
<line x1="229.00" y1="3046.00" x2="252.50" y2="3046.00" stroke-width="5.4"/>
<line x1="229.00" y1="3196.00" x2="252.50" y2="3196.00" stroke-width="5.4"/>
<line x1="229.00" y1="3346.00" x2="252.50" y2="3346.00" stroke-width="5.4"/>
<line x1="229.00" y1="3496.00" x2="252.50" y2="3496.00" stroke-width="5.4"/>
<line x1="367.30" y1="3496.00" x2="367.30" y2="3520.50" stroke-width="5.4"/>
<line x1="539.30" y1="3496.00" x2="539.30" y2="3520.50" stroke-width="5.4"/>
<line x1="367.30" y1="3325.00" x2="367.30" y2="3376.50" stroke-width="5.3"/>
<line x1="339.30" y1="3325.00" x2="395.30" y2="3325.00" stroke-width="5.3"/>
<line x1="339.30" y1="3376.50" x2="395.30" y2="3376.50" stroke-width="5.3"/>
<line x1="310.80" y1="3361.50" x2="423.80" y2="3361.50" stroke-width="5.3"/>
<line x1="539.30" y1="3040.00" x2="539.30" y2="3190.00" stroke-width="5.3"/>
<line x1="511.30" y1="3040.00" x2="567.30" y2="3040.00" stroke-width="5.3"/>
<line x1="511.30" y1="3190.00" x2="567.30" y2="3190.00" stroke-width="5.3"/>
<line x1="482.80" y1="3136.50" x2="595.80" y2="3136.50" stroke-width="5.3"/>
</g>
<rect x="359.30" y="3307.00" width="18" height="18" fill="#111"/><rect x="365.30" y="3313.00" width="6" height="6" fill="#8c8c8c"/>
<rect x="359.30" y="3338.50" width="18" height="18" fill="#111"/><rect x="365.30" y="3344.50" width="6" height="6" fill="#8c8c8c"/>
<rect x="345.80" y="3367.50" width="18" height="18" fill="#111"/><rect x="351.80" y="3373.50" width="6" height="6" fill="#8c8c8c"/>
<rect x="370.80" y="3367.50" width="18" height="18" fill="#111"/><rect x="376.80" y="3373.50" width="6" height="6" fill="#8c8c8c"/>
<rect x="532.60" y="3011.80" width="12.4" height="12.4" fill="#f00" stroke="#300" stroke-width="1.3"/>
<rect x="532.60" y="3101.30" width="12.4" height="12.4" fill="#f00" stroke="#300" stroke-width="1.3"/>
<rect x="532.60" y="3161.30" width="12.4" height="12.4" fill="#f00" stroke="#300" stroke-width="1.3"/>
<rect x="532.60" y="3191.30" width="12.4" height="12.4" fill="#f00" stroke="#300" stroke-width="1.3"/>
<text x="131.20" y="2911.00" font-size="46.50" font-weight="normal" stroke="#000" stroke-width="2.2" stroke-linejoin="round">0.40</text>
<text x="131.32" y="3061.00" font-size="46.50" font-weight="normal" stroke="#000" stroke-width="2.2" stroke-linejoin="round">0.35</text>
<text x="131.20" y="3211.00" font-size="46.50" font-weight="normal" stroke="#000" stroke-width="2.2" stroke-linejoin="round">0.30</text>
<text x="131.32" y="3361.00" font-size="46.50" font-weight="normal" stroke="#000" stroke-width="2.2" stroke-linejoin="round">0.25</text>
<text x="131.20" y="3511.00" font-size="46.50" font-weight="normal" stroke="#000" stroke-width="2.2" stroke-linejoin="round">0.20</text>
<text x="306.36" y="3570.00" font-size="47.00" font-weight="normal" stroke="#000" stroke-width="2.3" stroke-linejoin="round" textLength="116.45" lengthAdjust="spacingAndGlyphs">mock</text>
<text x="466.18" y="3570.00" font-size="47.00" font-weight="normal" stroke="#000" stroke-width="2.3" stroke-linejoin="round" textLength="141.89" lengthAdjust="spacingAndGlyphs">Radon</text>
<text x="70.11" y="2790.42" font-size="71.92" font-family="'Noto Sans CJK JP', 'Liberation Sans', sans-serif" textLength="27.56" lengthAdjust="spacingAndGlyphs">J</text>
<text x="358.67" y="2817.50" font-size="61.50" textLength="182.69" lengthAdjust="spacingAndGlyphs">CD34+</text>
<text x="0.00" y="0.00" font-size="46.76" font-weight="normal" stroke="#000" stroke-width="1.4" stroke-linejoin="round" textLength="607.23" lengthAdjust="spacingAndGlyphs" transform="translate(103.10,3499.34) rotate(-90)">CD34+ [% CD45+ singlets]</text>
<text x="520.48" y="2959.81" font-size="62.37" font-family="'DejaVu Sans', 'Liberation Sans', sans-serif" textLength="26.55" lengthAdjust="spacingAndGlyphs">*</text>
<g stroke="#000" stroke-linecap="butt">
<line x1="984.50" y1="2893.30" x2="984.50" y2="3499.20" stroke-width="5.4"/>
<line x1="961.00" y1="3496.50" x2="1388.50" y2="3496.50" stroke-width="5.4"/>
<line x1="961.00" y1="2896.00" x2="984.50" y2="2896.00" stroke-width="5.4"/>
<line x1="961.00" y1="3016.00" x2="984.50" y2="3016.00" stroke-width="5.4"/>
<line x1="961.00" y1="3136.00" x2="984.50" y2="3136.00" stroke-width="5.4"/>
<line x1="961.00" y1="3256.50" x2="984.50" y2="3256.50" stroke-width="5.4"/>
<line x1="961.00" y1="3376.50" x2="984.50" y2="3376.50" stroke-width="5.4"/>
<line x1="961.00" y1="3496.50" x2="984.50" y2="3496.50" stroke-width="5.4"/>
<line x1="1099.80" y1="3496.50" x2="1099.80" y2="3521.00" stroke-width="5.4"/>
<line x1="1269.80" y1="3496.50" x2="1269.80" y2="3521.00" stroke-width="5.4"/>
<line x1="1099.80" y1="3096.50" x2="1099.80" y2="3332.50" stroke-width="5.3"/>
<line x1="1071.80" y1="3096.50" x2="1127.80" y2="3096.50" stroke-width="5.3"/>
<line x1="1071.80" y1="3332.50" x2="1127.80" y2="3332.50" stroke-width="5.3"/>
<line x1="1043.30" y1="3173.50" x2="1156.30" y2="3173.50" stroke-width="5.3"/>
<line x1="1269.80" y1="3003.50" x2="1269.80" y2="3248.50" stroke-width="5.3"/>
<line x1="1241.80" y1="3003.50" x2="1297.80" y2="3003.50" stroke-width="5.3"/>
<line x1="1241.80" y1="3248.50" x2="1297.80" y2="3248.50" stroke-width="5.3"/>
<line x1="1213.30" y1="3042.50" x2="1326.30" y2="3042.50" stroke-width="5.3"/>
</g>
<rect x="1090.80" y="3080.00" width="18" height="18" fill="#111"/><rect x="1096.80" y="3086.00" width="6" height="6" fill="#8c8c8c"/>
<rect x="1090.80" y="3113.50" width="18" height="18" fill="#111"/><rect x="1096.80" y="3119.50" width="6" height="6" fill="#8c8c8c"/>
<rect x="1090.80" y="3216.00" width="18" height="18" fill="#111"/><rect x="1096.80" y="3222.00" width="6" height="6" fill="#8c8c8c"/>
<rect x="1090.80" y="3360.00" width="18" height="18" fill="#111"/><rect x="1096.80" y="3366.00" width="6" height="6" fill="#8c8c8c"/>
<rect x="1264.10" y="2986.30" width="12.4" height="12.4" fill="#f00" stroke="#300" stroke-width="1.3"/>
<rect x="1252.10" y="3031.30" width="12.4" height="12.4" fill="#f00" stroke="#300" stroke-width="1.3"/>
<rect x="1276.60" y="3041.30" width="12.4" height="12.4" fill="#f00" stroke="#300" stroke-width="1.3"/>
<rect x="1264.10" y="3311.30" width="12.4" height="12.4" fill="#f00" stroke="#300" stroke-width="1.3"/>
<text x="901.61" y="2911.00" font-size="46.50" font-weight="normal" stroke="#000" stroke-width="2.2" stroke-linejoin="round">17</text>
<text x="901.26" y="3031.00" font-size="46.50" font-weight="normal" stroke="#000" stroke-width="2.2" stroke-linejoin="round">16</text>
<text x="901.14" y="3151.00" font-size="46.50" font-weight="normal" stroke="#000" stroke-width="2.2" stroke-linejoin="round">15</text>
<text x="900.56" y="3271.50" font-size="46.50" font-weight="normal" stroke="#000" stroke-width="2.2" stroke-linejoin="round">14</text>
<text x="901.26" y="3391.50" font-size="46.50" font-weight="normal" stroke="#000" stroke-width="2.2" stroke-linejoin="round">13</text>
<text x="901.61" y="3511.50" font-size="46.50" font-weight="normal" stroke="#000" stroke-width="2.2" stroke-linejoin="round">12</text>
<text x="1038.87" y="3570.00" font-size="47.00" font-weight="normal" stroke="#000" stroke-width="2.3" stroke-linejoin="round" textLength="115.94" lengthAdjust="spacingAndGlyphs">mock</text>
<text x="1198.16" y="3570.00" font-size="47.00" font-weight="normal" stroke="#000" stroke-width="2.3" stroke-linejoin="round" textLength="142.42" lengthAdjust="spacingAndGlyphs">Radon</text>
<text x="861.09" y="2791.70" font-size="74.19" font-family="'Noto Sans CJK JP', 'Liberation Sans', sans-serif" textLength="45.05" lengthAdjust="spacingAndGlyphs">K</text>
<text x="1076.18" y="2817.50" font-size="61.50" textLength="211.24" lengthAdjust="spacingAndGlyphs">CD115+</text>
<text x="0.00" y="0.00" font-size="45.68" font-weight="normal" stroke="#000" stroke-width="1.4" stroke-linejoin="round" textLength="632.20" lengthAdjust="spacingAndGlyphs" transform="translate(869.82,3511.84) rotate(-90)">CD115+ [% CD45+ singlets]</text>
</svg>
</body></html>
